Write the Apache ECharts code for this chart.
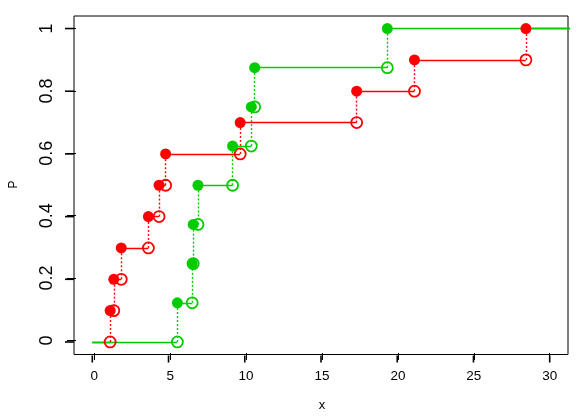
<!DOCTYPE html>
<html>
<head>
<meta charset="utf-8">
<script src="https://cdn.jsdelivr.net/npm/echarts@6/dist/echarts.min.js"></script>
<style>
html,body{margin:0;padding:0;background:#fff;}
#chart{width:578px;height:417px;}
</style>
</head>
<body>
<div id="chart"></div>
<script>
// Jump locations of the two empirical step functions
const redX = [1.17, 1.41, 1.90, 3.68, 4.38, 4.81, 9.70, 17.34, 21.13, 28.44];
const greenX = [5.58, 6.55, 6.62, 6.93, 9.20, 10.43, 10.65, 19.35];
const xTicks = [0, 5, 10, 15, 20, 25, 30];
const yTicks = [0, 0.2, 0.4, 0.6, 0.8, 1];
const xStart = 0;
const xMin = -1.2, xMax = 31.2;
const yMin = -0.04, yMax = 1.04;

const RED = '#ff0000';
const GREEN = '#00cc00';

function build(xs) {
  const n = xs.length;
  const hor = [], ver = [], filled = [], open = [];
  const pts = [xStart].concat(xs);
  for (let k = 0; k <= n; k++) {
    const y = k / n;
    const x1 = pts[k];
    const x2 = k < n ? pts[k + 1] : xMax + 5;
    hor.push({ coords: [[x1, y], [x2, y]] });
    if (k >= 1) filled.push([x1, y]);
    if (k < n) {
      open.push([x2, y]);
      ver.push({ coords: [[x2, y], [x2, (k + 1) / n]] });
    }
  }
  return { hor, ver, filled, open };
}

const r = build(redX);
const g = build(greenX);

function hLines(data, color) {
  return { type: 'lines', coordinateSystem: 'cartesian2d', data, silent: true,
    lineStyle: { color, width: 1.3, opacity: 1 }, clip: true };
}
function vLines(data, color) {
  return { type: 'lines', coordinateSystem: 'cartesian2d', data, silent: true,
    lineStyle: { color, width: 1.4, type: [2, 2], opacity: 1 }, clip: true };
}
function filledPts(data, color) {
  return { type: 'scatter', data, symbol: 'circle', symbolSize: 11, silent: true,
    itemStyle: { color, opacity: 1 } };
}
function openPts(data, color) {
  return { type: 'scatter', data, symbol: 'circle', symbolSize: 11, silent: true,
    itemStyle: { color: 'rgba(0,0,0,0)', borderColor: color, borderWidth: 1.8, opacity: 1 } };
}

const fmt = v => String(Math.round(v * 10) / 10);
const FONT = 'Liberation Sans, Arial, Helvetica, sans-serif';

// plot box (data region incl. 4% padding)
const BOX = { left: 74, right: 568, top: 16, bottom: 354.5 };
const W = 578, H = 417;
const pxX = (BOX.right - BOX.left) / (xMax - xMin);
const pxY = (BOX.bottom - BOX.top) / (yMax - yMin);
// axis grid spans exactly the tick range
const ax = {
  left: BOX.left + (xTicks[0] - xMin) * pxX,
  right: BOX.left + (xTicks[xTicks.length - 1] - xMin) * pxX,
  top: BOX.top + (yMax - yTicks[yTicks.length - 1]) * pxY,
  bottom: BOX.top + (yMax - yTicks[0]) * pxY
};

// tick marks as thin rect symbols placed through the data grid's scales
const xTickSeries = {
  type: 'scatter', xAxisIndex: 0, yAxisIndex: 0, silent: true, clip: false, z: 6,
  data: xTicks.map(v => [v, yMin]),
  symbol: 'rect', symbolSize: [1.6, 7], symbolOffset: [0, 4.5],
  itemStyle: { color: '#000', opacity: 1 }
};
const yTickSeries = {
  type: 'scatter', xAxisIndex: 0, yAxisIndex: 0, silent: true, clip: false, z: 6,
  data: yTicks.map(v => [xMin, v]),
  symbol: 'rect', symbolSize: [9, 1.6], symbolOffset: [-4.5, 0],
  itemStyle: { color: '#000', opacity: 1 }
};

const chart = echarts.init(document.getElementById('chart'), null, { renderer: 'canvas' });
chart.setOption({
  animation: false,
  backgroundColor: '#fff',
  textStyle: { fontFamily: FONT },
  grid: [
    { left: BOX.left, right: W - BOX.right, top: BOX.top, bottom: H - BOX.bottom, show: true,
      borderColor: '#000', borderWidth: 1, backgroundColor: 'transparent' },
    { left: ax.left, right: W - ax.right, top: ax.top, bottom: H - ax.bottom, show: false }
  ],
  xAxis: [
    { type: 'value', gridIndex: 0, min: xMin, max: xMax, show: false },
    {
      type: 'value', gridIndex: 1, min: xTicks[0], max: xTicks[xTicks.length - 1], interval: 5,
      position: 'bottom', offset: BOX.bottom - ax.bottom,
      name: 'x', nameLocation: 'middle', nameGap: 46,
      nameTextStyle: { fontSize: 13, color: '#000', fontFamily: FONT },
      axisLine: { show: false, onZero: false },
      axisTick: { show: true, inside: false, length: 7, lineStyle: { color: '#000', width: 1 } },
      axisLabel: { show: true, formatter: fmt, fontSize: 13.5, color: '#000', margin: 16,
        fontFamily: FONT, showMinLabel: true, showMaxLabel: true },
      splitLine: { show: false }
    }
  ],
  yAxis: [
    { type: 'value', gridIndex: 0, min: yMin, max: yMax, show: false },
    {
      type: 'value', gridIndex: 1, min: yTicks[0], max: yTicks[yTicks.length - 1], interval: 0.2,
      position: 'left', offset: ax.left - BOX.left,
      name: 'P', nameLocation: 'middle', nameGap: 56, nameRotate: 90,
      nameTextStyle: { fontSize: 12, color: '#000', fontFamily: FONT },
      axisLine: { show: false, onZero: false },
      axisTick: { show: true, inside: false, length: 9, lineStyle: { color: '#000', width: 1 } },
      axisLabel: { show: true, formatter: fmt, fontSize: 18, color: '#000', margin: 20,
        rotate: 90, fontFamily: FONT, showMinLabel: true, showMaxLabel: true },
      splitLine: { show: false }
    }
  ],
  series: [
    xTickSeries,
    yTickSeries,
    hLines(r.hor, RED),
    vLines(r.ver, RED),
    hLines(g.hor, GREEN),
    vLines(g.ver, GREEN),
    openPts(r.open, RED),
    filledPts(r.filled, RED),
    openPts(g.open, GREEN),
    filledPts(g.filled, GREEN)
  ]
});
</script>
</body>
</html>
